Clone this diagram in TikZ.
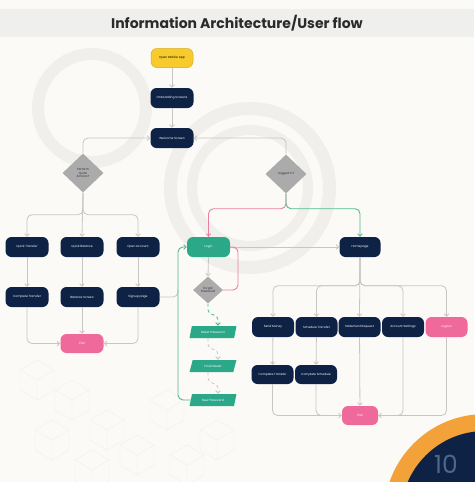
\documentclass[tikz,border=0pt]{standalone}
\usepackage{fontspec}
\setmainfont{Poppins}
\usetikzlibrary{shapes.geometric,arrows.meta,calc}
\definecolor{bgc}{HTML}{FBFAF6}
\definecolor{band}{HTML}{EFEFED}
\definecolor{ringc}{HTML}{F0EFEB}
\definecolor{cubec}{HTML}{F1F0EC}
\definecolor{navy}{HTML}{0D2244}
\definecolor{yel}{HTML}{F7CB2D}
\definecolor{yelb}{HTML}{D9A90F}
\definecolor{pinkc}{HTML}{EF6A9A}
\definecolor{pinkl}{HTML}{EE7DA4}
\definecolor{greenc}{HTML}{2BA888}
\definecolor{greenl}{HTML}{52BB8E}
\definecolor{diag}{HTML}{ABABAB}
\definecolor{linec}{HTML}{C6C6C4}
\definecolor{orangec}{HTML}{F3A23A}
\definecolor{tenc}{HTML}{4C6787}
\definecolor{titlec}{HTML}{2B2B2B}
\tikzset{
  box/.style={rectangle,rounded corners=6pt,fill=navy,text=white,minimum width=43pt,minimum height=20pt,inner sep=0pt,font=\fontsize{3}{3.6}\selectfont},
  startbox/.style={box,fill=yel,draw=yelb,line width=0.5pt,text=black},
  endbox/.style={box,fill=pinkc,minimum width=43pt},
  gbox/.style={box,fill=greenc},
  dec/.style={diamond,aspect=1.05,fill=diag,inner sep=0pt,minimum width=41pt,minimum height=39pt,align=center,text=black!80,font=\fontsize{3}{3.8}\selectfont},
  para/.style={trapezium,trapezium left angle=60,trapezium right angle=120,trapezium stretches=true,fill=greenc,text=white,minimum width=47pt,minimum height=12pt,inner sep=0pt,font=\fontsize{3}{3.6}\selectfont},
  conn/.style={draw=linec,line width=0.8pt,rounded corners=5pt},
  arr/.style={-{Straight Barb[length=2.5pt,width=4.5pt]}},
  pline/.style={draw=pinkl,line width=0.9pt,rounded corners=5pt},
  gline/.style={draw=greenl,line width=0.9pt,rounded corners=5pt},
}
\begin{document}
\begin{tikzpicture}[x=1pt,y=-1pt]
\useasboundingbox (0,0) rectangle (474,482);
\fill[bgc] (0,0) rectangle (474,482);
% decorative rings
\fill[ringc,even odd rule] (92,108) circle (60) (92,108) circle (48);
\fill[ringc,even odd rule] (250,188) circle (86) (250,188) circle (73);
\fill[ringc,even odd rule] (250,188) circle (63) (250,188) circle (53);
% faint cube pattern
\begin{scope}[draw=cubec,line width=0.4pt]
\foreach \cx/\cy in {20/370,55/390,35/430,90/420,120/445,150/400,75/460,170/455,200/430} {
  \draw (\cx,\cy) -- ++(17,-10) -- ++(17,10) -- ++(-17,10) -- cycle;
  \draw (\cx,\cy) -- ++(0,20) -- ++(17,10) -- ++(0,-20);
  \draw (\cx+34,\cy) -- ++(0,20) -- ++(-17,10);
}
\end{scope}
% title band
\fill[band] (0,9) rectangle (474,37);
\node[font=\fontsize{14}{16}\selectfont\bfseries,text=titlec] (title) at (237,23) {Information Architecture/User flow};
% orange circle
\fill[orangec] (485,515) circle (101);
\fill[navy] (485,515) circle (84);
\node[font=\fontsize{25}{25}\selectfont,text=tenc] (ten) at (446,464) {10};
% nodes
\node[startbox,minimum width=42pt,minimum height=19pt] (open) at (172,58) {Open Mobile App};
\node[box] (onb) at (172,98) {Onboarding Screens};
\node[box] (wel) at (172,138) {Welcome Screen};
\node[dec] (d1) at (83,173) {Perform\\Quick\\Actions?};
\node[dec] (d2) at (286,174) {Logged in?};
\node[box] (qt) at (27,247) {Quick Transfer};
\node[box] (qb) at (82,247) {Quick Balance};
\node[box] (oa) at (138,247) {Open Account};
\node[box] (ct) at (27,297) {Complete Transfer};
\node[box] (bs) at (82,297) {Balance Screen};
\node[box] (sp) at (138,297) {Signup page};
\node[endbox,minimum height=19pt] (e1) at (82,343.5) {End};
\node[gbox] (login) at (208.5,247) {Login};
\node[box,minimum width=41pt] (home) at (360,247) {Homepage};
\node[dec,minimum width=30pt,minimum height=27pt] (fp) at (208,290) {Forgot\\Password};
\node[para] (rp) at (213,332) {Reset Password};
\node[para] (er) at (213,366) {Email Reset};
\node[para] (np) at (213,400) {New Password};
\node[box,minimum width=42pt] (sm) at (273,327) {Send Money};
\node[box,minimum width=42pt] (stf) at (316.5,327) {Schedule Transfer};
\node[box,minimum width=42pt] (sr) at (359.5,327) {Statement Request};
\node[box,minimum width=42pt] (as) at (403,327) {Account Settings};
\node[endbox,minimum width=42pt] (lo) at (446.5,327) {Logout};
\node[box,minimum width=42pt,minimum height=19pt] (ct2) at (272.5,374.5) {Complete Transfer};
\node[box,minimum width=42pt,minimum height=19pt] (cs) at (316,374.5) {Complete Schedule};
\node[endbox,minimum width=36pt,minimum height=19pt] (e2) at (360,415.5) {End};
\coordinate (gx) at (178,247);
\coordinate (jx) at (178,289);
\coordinate (pc) at (238,270);
% connectors
\draw[conn,arr] (open) -- (onb);
\draw[conn,arr] (onb) -- (wel);
\draw[conn,arr] (d1.north) |- (wel.west);
\draw[conn,arr] (d2.north) |- (wel.east);
\draw[conn,arr] (d1.south) -- ++(0,22) -| (qt.north);
\draw[conn,arr] (d1.south) -- (qb.north);
\draw[conn,arr] (d1.south) -- ++(0,22) -| (oa.north);
\draw[conn,arr] (qt) -- (ct);
\draw[conn,arr] (qb) -- (bs);
\draw[conn,arr] (oa) -- (sp);
\draw[conn,arr] (ct.south) |- (e1.west);
\draw[conn,arr] (bs) -- (e1);
\draw[conn,arr] (sp.south) |- (e1.east);
\draw[conn] (sp.east) -| (jx);
\draw[conn,arr] (login.east) -- (home.west);
\draw[conn,arr] (login.south) -- (fp.north);
\draw[pline,arr] (d2.south) -- ++(0,15) -| (login.north);
\draw[gline,arr] (d2.south) -- ++(0,15) -| (home.north);
\draw[pline] (fp.east) -| (pc) |- (login.east);
\draw[gline,arr] (np.west) -| (gx) -- (login.west);
\draw[gline,dashed,arr] (fp.south) -- ++(0,11) -| ($(rp.north)+(5,0)$);
\draw[conn,dashed,arr] ($(rp.south)+(-5,0)$) -- ++(0,11) -| ($(er.north)+(5,0)$);
\draw[conn,dashed,arr] ($(er.south)+(-5,0)$) -- ++(0,11) -| ($(np.north)+(5,0)$);
\draw[conn,arr] (home.south) -- ++(0,28.5) -| (sm.north);
\draw[conn,arr] (home.south) -- ++(0,28.5) -| (stf.north);
\draw[conn,arr] (home.south) -- (sr.north);
\draw[conn,arr] (home.south) -- ++(0,28.5) -| (as.north);
\draw[conn,arr] (home.south) -- ++(0,28.5) -| (lo.north);
\draw[conn,arr] (sm) -- (ct2);
\draw[conn,arr] (stf) -- (cs);
\draw[conn,arr] (ct2.south) |- (e2.west);
\draw[conn] (cs.south) |- (e2.west);
\draw[conn,arr] (sr) -- (e2);
\draw[conn,arr] (as.south) |- (e2.east);
\draw[conn] (lo.south) |- (e2.east);
\end{tikzpicture}
\end{document}
